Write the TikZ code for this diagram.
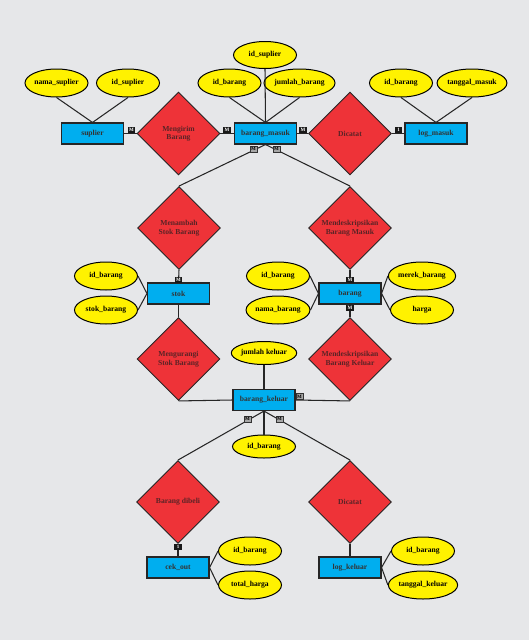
\documentclass[tikz,border=0pt]{standalone}
\usepackage{fontspec}
\setmainfont{Liberation Serif}
\usetikzlibrary{shapes.geometric}
\definecolor{latar}{HTML}{E6E7E9}
\definecolor{biru}{HTML}{00AEEF}
\definecolor{merah}{HTML}{EE3338}
\definecolor{kuning}{HTML}{FFF200}
\definecolor{teksmerah}{HTML}{5A2326}
\newcommand{\hrf}{\bfseries\fontsize{7.6}{8.6}\selectfont}
\tikzset{
  entitas/.style={draw=black!85,line width=1.1pt,fill=biru,minimum width=62pt,minimum height=21pt,inner sep=0pt,font=\hrf,text=black!80},
  relasi/.style={diamond,draw=black!85,line width=0.9pt,fill=merah,minimum width=83pt,minimum height=83pt,inner sep=0pt,align=center,font=\hrf,text=teksmerah},
  atribut/.style={ellipse,draw=black,line width=1pt,fill=kuning,minimum width=63pt,minimum height=28pt,inner sep=0pt,font=\hrf},
  kard/.style={fill=black!90,text=white,font=\bfseries\fontsize{5}{5}\selectfont,inner sep=0pt,minimum width=7.5pt,minimum height=6pt},
  kardabu/.style={kard,fill=black!35,text=black,draw=black!80,line width=0.3pt},
  garis/.style={line width=1.05pt,black!85}
}
\begin{document}
\begin{tikzpicture}[x=1pt,y=-1pt]
\fill[latar] (0,0) rectangle (529,640);
\useasboundingbox (0,0) rectangle (529,640);

% entitas
\node[entitas] (sup) at (92.5,133.5) {suplier};
\node[entitas] (bmasuk) at (265.5,133.5) {barang\_masuk};
\node[entitas] (lmasuk) at (436,133.5) {log\_masuk};
\node[entitas] (stok) at (178.5,293.5) {stok};
\node[entitas] (brg) at (350,293.5) {barang};
\node[entitas] (bkeluar) at (264,400) {barang\_keluar};
\node[entitas] (cek) at (178,567.5) {cek\_out};
\node[entitas] (lkeluar) at (350,567.5) {log\_keluar};

% relasi
\node[relasi] (kirim) at (178.5,133.5) {Mengirim\\Barang};
\node[relasi] (catatmasuk) at (350,133.5) {Dicatat};
\node[relasi] (tambah) at (179,228) {Menambah\\Stok Barang};
\node[relasi] (deskmasuk) at (350,228) {Mendeskripsikan\\Barang Masuk};
\node[relasi] (kurang) at (178.5,359) {Mengurangi\\Stok Barang};
\node[relasi] (deskkeluar) at (350,359) {Mendeskripsikan\\Barang Keluar};
\node[relasi] (beli) at (178,502) {Barang dibeli};
\node[relasi] (catatkeluar) at (350,502) {Dicatat};

% atribut
\node[atribut] (namasup) at (56.5,83) {nama\_suplier};
\node[atribut] (idsup) at (128,83) {id\_suplier};
\node[atribut] (idbm) at (229.5,83) {id\_barang};
\node[atribut,minimum height=27pt] (idsupbm) at (265,55) {id\_suplier};
\node[atribut] (jmlbm) at (299.5,83) {jumlah\_barang};
\node[atribut] (idlm) at (401,83) {id\_barang};
\node[atribut] (tglm) at (472,83) {tanggal\_masuk};
\node[atribut] (idstok) at (106,276) {id\_barang};
\node[atribut] (stokbrg) at (106,310) {stok\_barang};
\node[atribut] (idbrg) at (278,276) {id\_barang};
\node[atribut] (namabrg) at (278,310) {nama\_barang};
\node[atribut] (merek) at (422,276) {merek\_barang};
\node[atribut] (harga) at (422,310) {harga};
\node[atribut,minimum height=23pt] (jmlk) at (264,353) {jumlah keluar};
\node[atribut,minimum height=23pt] (idbk) at (264,446.5) {id\_barang};
\node[atribut] (idcek) at (250,551) {id\_barang};
\node[atribut] (total) at (250,585) {total\_harga};
\node[atribut] (idlk) at (423,551) {id\_barang};
\node[atribut] (tglk) at (423,585) {tanggal\_keluar};

% garis relasi
\draw[garis] (sup) -- (kirim) -- (bmasuk) -- (catatmasuk) -- (lmasuk);
\draw[garis] (bmasuk.south) -- (tambah.north);
\draw[garis] (bmasuk.south) -- (deskmasuk.north);
\draw[garis] (tambah.south) -- (stok.north);
\draw[garis] (deskmasuk.south) -- (brg.north);
\draw[garis] (stok.south) -- (kurang.north);
\draw[garis] (brg.south) -- (deskkeluar.north);
\draw[garis] (kurang.south) -- (bkeluar.west);
\draw[garis] (deskkeluar.south) -- (bkeluar.east);
\draw[garis] (bkeluar.south) -- (beli.north);
\draw[garis] (bkeluar.south) -- (catatkeluar.north);
\draw[garis] (beli.south) -- (cek.north);
\draw[garis] (catatkeluar.south) -- (lkeluar.north);

% garis atribut
\foreach \a in {namasup,idsup}{\draw[garis] (\a.south) -- (sup.north);}
\foreach \a in {idbm,idsupbm,jmlbm}{\draw[garis] (\a.south) -- (bmasuk.north);}
\foreach \a in {idlm,tglm}{\draw[garis] (\a.south) -- (lmasuk.north);}
\foreach \a in {idstok,stokbrg}{\draw[garis] (\a.east) -- (stok.west);}
\foreach \a in {idbrg,namabrg}{\draw[garis] (\a.east) -- (brg.west);}
\foreach \a in {merek,harga}{\draw[garis] (\a.west) -- (brg.east);}
\draw[garis] (jmlk.south) -- (bkeluar.north);
\draw[garis] (idbk.north) -- (bkeluar.south);
\foreach \a in {idcek,total}{\draw[garis] (\a.west) -- (cek.east);}
\foreach \a in {idlk,tglk}{\draw[garis] (\a.west) -- (lkeluar.east);}

% kardinalitas
\node[kard] (k1) at (131.5,129.5) {M};
\node[kard] (k2) at (227,129.5) {M};
\node[kard] (k3) at (303,129.5) {M};
\node[kard] (k4) at (398.5,129.5) {1};
\node[kardabu] (k5) at (253.5,149) {M};
\node[kardabu] (k6) at (276.5,149) {M};
\node[kard] (k7) at (178.5,279.5) {M};
\node[kard] (k8) at (350,279.5) {M};
\node[kard] (k9) at (350,307.5) {M};
\node[kardabu] (k10) at (299.5,396.5) {M};
\node[kardabu] (k11) at (247.5,419) {M};
\node[kardabu] (k12) at (279.5,419) {M};
\node[kard] (k13) at (178,547) {1};
\end{tikzpicture}
\end{document}
